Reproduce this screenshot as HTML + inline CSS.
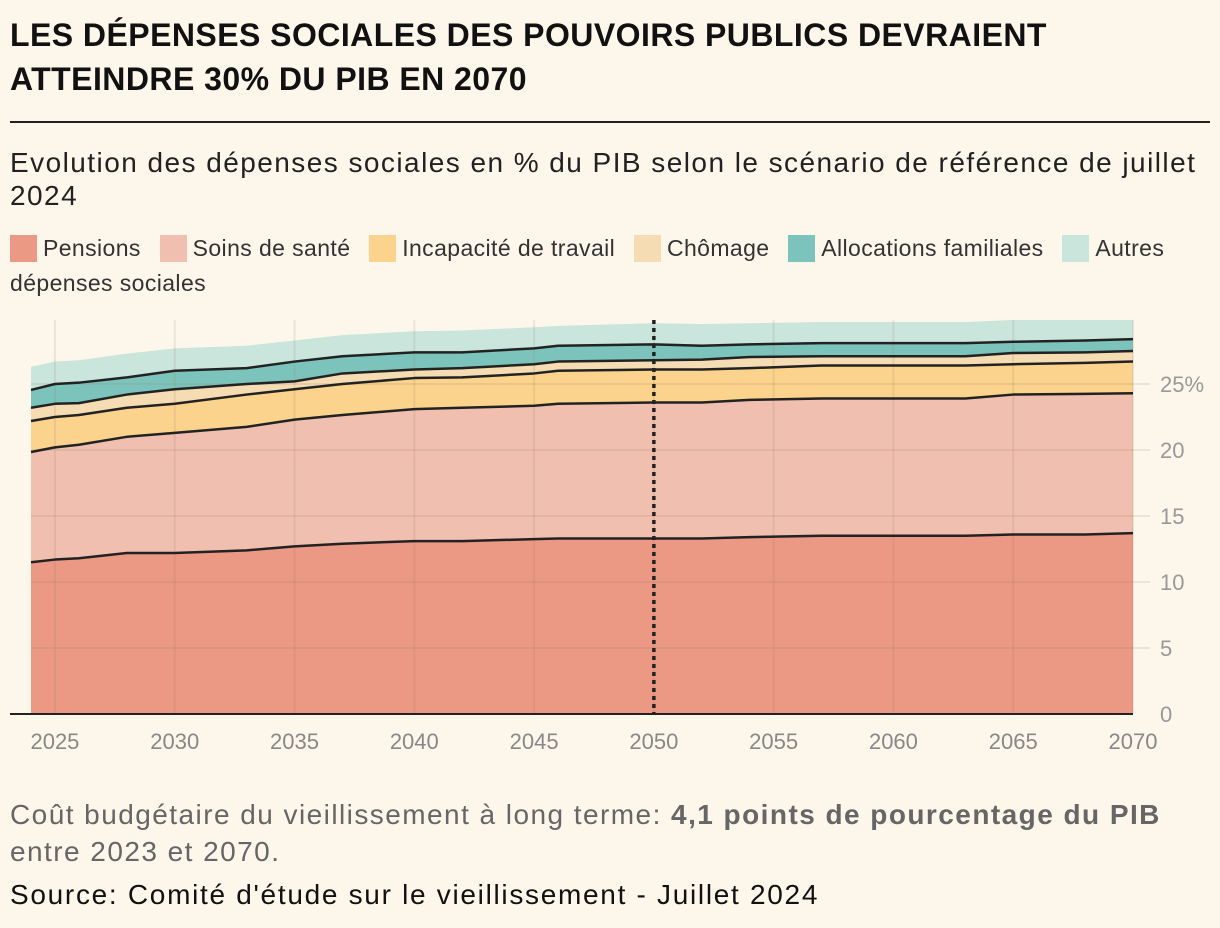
<!DOCTYPE html>
<html><head><meta charset="utf-8"><style>
body{margin:0;width:1220px;height:928px;background:#fdf6ea;font-family:"Liberation Sans",sans-serif;position:relative;overflow:hidden}
.t{position:absolute;left:10px;margin:0;white-space:nowrap}
#title{top:13px;font-size:32px;font-weight:bold;line-height:44px;color:#111;letter-spacing:0.45px}
#rule{position:absolute;left:10px;top:121px;width:1200px;height:2px;background:#222}
#sub{top:146px;font-size:28px;line-height:33px;color:#222;letter-spacing:1.45px}
#legend{top:231px;font-size:23px;line-height:35px;color:#333;width:1200px;letter-spacing:0.4px}
.sw{display:inline-block;width:27px;height:27px;vertical-align:-6px;margin-right:6px}
.li{margin-right:12px}
#note{top:796px;font-size:28px;line-height:37px;color:#666;letter-spacing:1.45px}
#src{top:879px;font-size:28px;color:#111;letter-spacing:1.7px}
svg{position:absolute;left:0;top:0}
</style></head><body>
<h1 class="t" id="title">LES DÉPENSES SOCIALES DES POUVOIRS PUBLICS DEVRAIENT<br>ATTEINDRE 30% DU PIB EN 2070</h1>
<div id="rule"></div>
<p class="t" id="sub">Evolution des dépenses sociales en % du PIB selon le scénario de référence de juillet<br>2024</p>
<div class="t" id="legend">
<span class="li"><span class="sw" style="background:#eb9885"></span>Pensions</span>
<span class="li"><span class="sw" style="background:#f0bfb0"></span>Soins de santé</span>
<span class="li"><span class="sw" style="background:#fcd38c"></span>Incapacité de travail</span>
<span class="li"><span class="sw" style="background:#f5dcb3"></span>Chômage</span>
<span class="li"><span class="sw" style="background:#7cc4bb"></span>Allocations familiales</span>
<span class="li"><span class="sw" style="background:#c9e5dc"></span>Autres<br>dépenses sociales</span>
</div>
<svg id="chart" width="1220" height="928"></svg>
<p class="t" id="note">Coût budgétaire du vieillissement à long terme: <b>4,1 points de pourcentage du PIB</b><br>entre 2023 et 2070.</p>
<p class="t" id="src">Source: Comité d'étude sur le vieillissement - Juillet 2024</p>
<script>
const years=[2024,2025,2026,2028,2030,2033,2035,2037,2040,2042,2045,2046,2050,2052,2054,2057,2063,2065,2068,2070];
const pensions=[11.5,11.7,11.8,12.2,12.2,12.4,12.7,12.9,13.1,13.1,13.25,13.3,13.3,13.3,13.4,13.5,13.5,13.6,13.6,13.7];
const sante=[8.35,8.5,8.6,8.8,9.1,9.35,9.6,9.75,10.0,10.1,10.1,10.2,10.3,10.3,10.4,10.4,10.4,10.6,10.65,10.6];
const incapacite=[2.35,2.3,2.25,2.2,2.2,2.45,2.3,2.35,2.35,2.3,2.45,2.5,2.5,2.5,2.4,2.5,2.5,2.3,2.35,2.4];
const chomage=[1.0,1.0,0.9,1.0,1.1,0.8,0.6,0.8,0.65,0.7,0.7,0.7,0.7,0.75,0.85,0.7,0.7,0.85,0.8,0.8];
const allocations=[1.35,1.5,1.55,1.3,1.4,1.2,1.5,1.3,1.3,1.2,1.2,1.2,1.2,1.05,0.95,1.0,1.0,0.85,0.9,0.9];
const autres=[1.75,1.7,1.7,1.8,1.7,1.7,1.6,1.6,1.6,1.65,1.6,1.5,1.6,1.65,1.6,1.6,1.6,1.65,1.55,1.45];
const xTicks=[2025,2030,2035,2040,2045,2050,2055,2060,2065,2070];
const yTicks=[0,5,10,15,20,25];
const yTickLabels=["0","5","10","15","20","25%"];
const markerYear=2050;

const NS="http://www.w3.org/2000/svg";
const svg=document.getElementById('chart');
const X=y=>31+(y-2024)*(1133-31)/46;
const Y=v=>714-v*13.2;
function mk(t,a){const e=document.createElementNS(NS,t);for(const k in a)e.setAttribute(k,a[k]);svg.appendChild(e);return e;}
const series=[pensions,sante,incapacite,chomage,allocations,autres];
const colors=["#eb9885","#f0bfb0","#fcd38c","#f5dcb3","#7cc4bb","#c9e5dc"];
const names=["pensions","sante","incapacite","chomage","allocations","autres"];
let base=years.map(()=>0);
const tops=[];
series.forEach((s,i)=>{
  const top=base.map((b,j)=>b+s[j]);
  let d="M"+years.map((y,j)=>X(y)+","+Y(top[j])).join("L");
  d+="L"+years.slice().reverse().map((y,j)=>X(y)+","+Y(base[years.length-1-j])).join("L")+"Z";
  const p=mk('path',{d:d,fill:colors[i]});
  
  
  tops.push(top);
  base=top;
});
xTicks.forEach(t=>{
  const g=mk('line',{x1:X(t),x2:X(t),y1:320,y2:714,stroke:"rgba(150,120,100,0.15)","stroke-width":2});
  
  
  const tx=mk('text',{x:X(t),y:749,"text-anchor":"middle","font-size":22,fill:"#888","font-family":"Liberation Sans, sans-serif"});
  tx.textContent=t;
  
  
});
yTicks.forEach((t,i)=>{
  if(t>0){const g=mk('line',{x1:31,x2:1150,y1:Y(t),y2:Y(t),stroke:"rgba(150,120,100,0.15)","stroke-width":2});
  
  }
  const tx=mk('text',{x:1160,y:Y(t)+8,"font-size":22,fill:"#999","font-family":"Liberation Sans, sans-serif"});
  tx.textContent=yTickLabels[i];
  
  
});
tops.slice(0,5).forEach((top,i)=>{
  const l=mk('path',{d:"M"+years.map((y,j)=>X(y)+","+Y(top[j])).join("L"),fill:"none",stroke:"#222","stroke-width":2.5,"stroke-linejoin":"round"});
  
  
});
const ax=mk('line',{x1:10,x2:1133,y1:714,y2:714,stroke:"#222","stroke-width":2});


const ml=mk('line',{x1:X(markerYear),x2:X(markerYear),y1:320,y2:714,stroke:"#222","stroke-width":3.5,"stroke-dasharray":"4,4"});


</script>
</body></html>
